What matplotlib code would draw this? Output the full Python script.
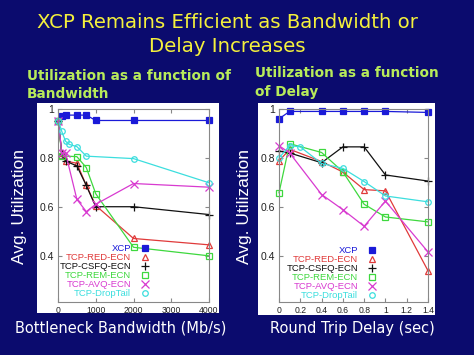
import matplotlib
matplotlib.use("Agg")
import matplotlib.pyplot as plt
from matplotlib.lines import Line2D
from matplotlib.patches import Rectangle

# bandwidth experiment (Mb/s)
bw_names = ["XCP", "TCP-RED-ECN", "TCP-CSFQ-ECN", "TCP-REM-ECN", "TCP-AVQ-ECN", "TCP-DropTail"]
bw_x = {
    "XCP": [10, 100, 200, 500, 750, 1000, 2000, 4000],
    "TCP-RED-ECN": [10, 100, 200, 500, 750, 1000, 2000, 4000],
    "TCP-CSFQ-ECN": [10, 100, 200, 500, 750, 1000, 2000, 4000],
    "TCP-REM-ECN": [10, 100, 500, 750, 1000, 2000, 4000],
    "TCP-AVQ-ECN": [10, 100, 200, 500, 750, 1000, 2000, 4000],
    "TCP-DropTail": [10, 100, 200, 300, 500, 750, 2000, 4000],
}
bw_y = {
    "XCP": [0.952, 0.97, 0.975, 0.975, 0.975, 0.953, 0.953, 0.953],
    "TCP-RED-ECN": [0.95, 0.82, 0.787, 0.778, 0.687, 0.605, 0.47, 0.444],
    "TCP-CSFQ-ECN": [0.95, 0.815, 0.787, 0.767, 0.687, 0.60, 0.60, 0.568],
    "TCP-REM-ECN": [0.95, 0.808, 0.805, 0.76, 0.653, 0.434, 0.399],
    "TCP-AVQ-ECN": [0.95, 0.82, 0.82, 0.63, 0.58, 0.61, 0.695, 0.68],
    "TCP-DropTail": [0.952, 0.908, 0.868, 0.855, 0.846, 0.807, 0.797, 0.698],
}

# delay experiment (sec)
dl_x = {
    "XCP": [0, 0.1, 0.4, 0.6, 0.8, 1.0, 1.4],
    "TCP-RED-ECN": [0, 0.1, 0.4, 0.6, 0.8, 1.0, 1.4],
    "TCP-CSFQ-ECN": [0, 0.1, 0.4, 0.6, 0.8, 1.0, 1.4],
    "TCP-REM-ECN": [0, 0.1, 0.4, 0.6, 0.8, 1.0, 1.4],
    "TCP-AVQ-ECN": [0, 0.1, 0.4, 0.6, 0.8, 1.0, 1.4],
    "TCP-DropTail": [0, 0.1, 0.2, 0.4, 0.6, 0.8, 1.0, 1.4],
}
dl_y = {
    "XCP": [0.96, 0.99, 0.99, 0.99, 0.99, 0.99, 0.986],
    "TCP-RED-ECN": [0.787, 0.835, 0.785, 0.742, 0.67, 0.665, 0.338],
    "TCP-CSFQ-ECN": [0.828, 0.82, 0.78, 0.845, 0.845, 0.73, 0.705],
    "TCP-REM-ECN": [0.657, 0.858, 0.822, 0.743, 0.61, 0.558, 0.538],
    "TCP-AVQ-ECN": [0.85, 0.82, 0.65, 0.588, 0.52, 0.623, 0.415],
    "TCP-DropTail": [0.80, 0.85, 0.845, 0.777, 0.757, 0.703, 0.644, 0.62],
}

colors = {
    "XCP": "#1a1ad8",
    "TCP-RED-ECN": "#e03a3a",
    "TCP-CSFQ-ECN": "#111111",
    "TCP-REM-ECN": "#3ed83e",
    "TCP-AVQ-ECN": "#d83ad0",
    "TCP-DropTail": "#3cdede",
}
markers = {
    "XCP": ("s", "full", 4),
    "TCP-RED-ECN": ("^", "none", 4),
    "TCP-CSFQ-ECN": ("+", "full", 6),
    "TCP-REM-ECN": ("s", "none", 4.5),
    "TCP-AVQ-ECN": ("x", "full", 6),
    "TCP-DropTail": ("o", "none", 4),
}

bg = "#0b0b6e"
fig = plt.figure(figsize=(4.74, 3.55), dpi=100, facecolor=bg)
W, H = 474.0, 355.0


def fx(px):
    return px / W


def fy(py):
    return 1 - py / H


# white panels behind the plots
fig.patches.append(Rectangle((fx(37), fy(313)), fx(182), 210 / H, transform=fig.transFigure,
                             facecolor="white", edgecolor="none", zorder=-5))
fig.patches.append(Rectangle((fx(258), fy(315)), fx(177), 212 / H, transform=fig.transFigure,
                             facecolor="white", edgecolor="none", zorder=-5))

ax1 = fig.add_axes([fx(58), fy(302), fx(151), 193 / H])
ax2 = fig.add_axes([fx(279), fy(302), fx(149), 193 / H])


def draw(ax, xs, ys, xlim, xticks, xlabels, legend_anchor):
    for name in bw_names:
        m, fs, ms = markers[name]
        ax.plot(xs[name], ys[name], color=colors[name], lw=0.9, marker=m, fillstyle=fs,
                markersize=ms, markeredgewidth=0.9, clip_on=False)
    ax.set_xlim(*xlim)
    ax.set_ylim(0.21, 1.0)
    ax.set_yticks([0.4, 0.6, 0.8, 1.0])
    ax.set_yticklabels(["0.4", "0.6", "0.8", "1"])
    ax.set_xticks(xticks)
    ax.set_xticklabels(xlabels)
    ax.tick_params(direction="in", top=True, right=True, labelcolor="#222222",
                   color="#888888", length=3, pad=3)
    ax.tick_params(axis="x", labelsize=6.2)
    ax.tick_params(axis="y", labelsize=7.5)
    for lab in ax.get_xticklabels() + ax.get_yticklabels():
        lab.set_fontfamily("Liberation Sans")
    for s in ax.spines.values():
        s.set_color("#888888")
        s.set_linewidth(0.8)
    handles = []
    for name in bw_names:
        m, fs, ms = markers[name]
        handles.append(Line2D([], [], color=colors[name], linestyle="none", marker=m,
                              fillstyle=fs, markersize=ms, markeredgewidth=0.9))
    leg = ax.legend(handles, bw_names, loc="lower right", bbox_to_anchor=legend_anchor,
                    frameon=False, markerfirst=False, handlelength=1.0, handletextpad=1.0,
                    labelspacing=0.0, borderpad=0, prop={"family": "Liberation Sans", "size": 6.8})
    for t, name in zip(leg.get_texts(), bw_names):
        t.set_color(colors[name])


draw(ax1, bw_x, bw_y, (0, 4000), [0, 1000, 2000, 3000, 4000],
     ["0", "1000", "2000", "3000", "4000"], (0.64, -0.005))
draw(ax2, dl_x, dl_y, (0, 1.4), [0, 0.2, 0.4, 0.6, 0.8, 1.0, 1.2, 1.4],
     ["0", "0.2", "0.4", "0.6", "0.8", "1", "1.2", "1.4"], (0.69, -0.015))

# titles and labels
fig.text(fx(227), fy(22), "XCP Remains Efficient as Bandwidth or", ha="center", va="center",
         color="#f4f03c", fontsize=14.2)
fig.text(fx(227), fy(47), "Delay Increases", ha="center", va="center",
         color="#f4f03c", fontsize=14.2)
fig.text(fx(27), fy(76), "Utilization as a function of", ha="left", va="center",
         color="#b8ec5a", fontsize=9.8, fontweight="bold")
fig.text(fx(27), fy(94), "Bandwidth", ha="left", va="center",
         color="#b8ec5a", fontsize=9.8, fontweight="bold")
fig.text(fx(255), fy(73), "Utilization as a function", ha="left", va="center",
         color="#b8ec5a", fontsize=9.8, fontweight="bold")
fig.text(fx(255), fy(92), "of Delay", ha="left", va="center",
         color="#b8ec5a", fontsize=9.8, fontweight="bold")

fig.text(fx(20), fy(207), "Avg. Utilization", rotation=90, ha="center", va="center",
         color="white", fontsize=12.5, family="Liberation Sans")
fig.text(fx(245), fy(207), "Avg. Utilization", rotation=90, ha="center", va="center",
         color="white", fontsize=12.5, family="Liberation Sans")

fig.text(fx(121), fy(328), "Bottleneck Bandwidth (Mb/s)", ha="center", va="center",
         color="white", fontsize=10.5)
fig.text(fx(352), fy(328), "Round Trip Delay (sec)", ha="center", va="center",
         color="white", fontsize=10.5)

fig.savefig("out.png", dpi=100, facecolor=bg)
